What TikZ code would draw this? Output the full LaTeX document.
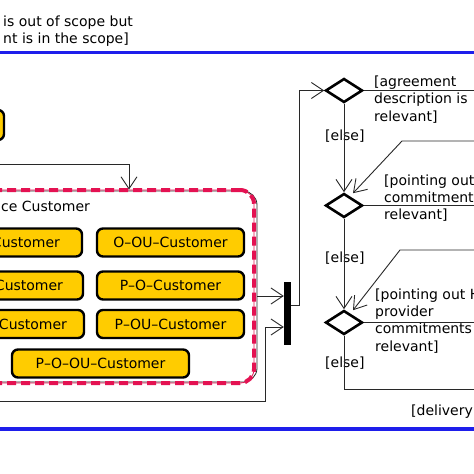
\documentclass[tikz,border=0pt]{standalone}
\usepackage{fontspec}
\setmainfont{DejaVu Sans}
\usetikzlibrary{shapes.geometric, arrows.meta, calc}
\definecolor{ybox}{RGB}{255,204,0}
\definecolor{grpred}{RGB}{228,18,82}
\definecolor{lane}{RGB}{30,30,235}
\definecolor{ln}{RGB}{40,40,40}
\begin{document}
\begin{tikzpicture}[x=1pt,y=-1pt,
  font=\fontsize{14}{17.5}\selectfont,
  arr/.style={draw=ln, line width=0.9pt, -{Straight Barb[length=12pt,width=16pt]}},
  wire/.style={draw=ln, line width=0.9pt},
  cbox/.style={draw=black, line width=2.4pt, fill=ybox, rounded corners=6pt, minimum height=28pt, inner sep=0pt},
  dec/.style={diamond, draw=black, line width=2.6pt, fill=white, minimum width=37pt, minimum height=24pt, aspect=1.5, inner sep=0pt},
  lbl/.style={anchor=north west, inner sep=0pt, align=left},
  swim/.style={draw=lane, line width=3.5pt},
  grp/.style={draw=grpred, line width=0.8pt, rounded corners=14pt, inner sep=0pt,
    postaction={draw=grpred, line width=4pt, dash pattern=on 9pt off 5pt}},
  frm/.style={draw=ln, line width=0.8pt, rounded corners=14pt, inner sep=0pt}]
\useasboundingbox (0,0) rectangle (474,474);
\fill[white] (0,0) rectangle (474,474);
\clip (0,0) rectangle (474,474);

% swimlane separators
\draw[swim] (-5,52.5) -- (480,52.5);
\draw[swim] (-5,429) -- (480,429);

% top note
\node[lbl] (tnote) at (3,15.5) {is out of scope but\\nt is in the scope]};

% top-left action (cut)
\node[cbox, minimum width=60pt, minimum height=30pt] (c0) at (-26,125) {};

% group frame
\node[frm, minimum width=407pt, minimum height=191pt] (frame) at (53.5,286.5) {};
\node[grp, minimum width=404pt, minimum height=193pt] (grp) at (52,286.5) {};
\node[lbl] (glabel) at (1,201.4) {ce Customer};

% customer boxes
\node[cbox, minimum width=112pt] (c1) at (26,242.5) {Customer};
\node[cbox, minimum width=108pt] (c2) at (29,285.5) {Customer};
\node[cbox, minimum width=102pt] (c3) at (33,324) {Customer};
\node[cbox, minimum width=147pt] (c4) at (170.5,242.5) {O–OU–Customer};
\node[cbox, minimum width=147pt] (c5) at (170.5,285.5) {P–O–Customer};
\node[cbox, minimum width=147pt] (c6) at (170.5,324) {P–OU–Customer};
\node[cbox, minimum width=177pt] (c7) at (100.5,363.5) {P–O–OU–Customer};

% join bar
\node[fill=black, minimum width=7pt, minimum height=63pt, inner sep=0pt] (bar) at (287.5,313.5) {};

% decisions
\node[dec] (d1) at (344,90.5) {};
\node[dec] (d2) at (344,205.5) {};
\node[dec] (d3) at (344,322.5) {};

% labels
\node[lbl] (l1) at (374,75.5) {[agreement\\description is\\relevant]};
\node[lbl, font=\fontsize{14}{17}\selectfont] (l2) at (384,174.5) {[pointing out\\commitment\\relevant]};
\node[lbl, font=\fontsize{14}{17.3}\selectfont] (l3) at (375,288.5) {[pointing out H\\provider\\commitments\\relevant]};
\node[lbl] (e1) at (325,129.4) {[else]};
\node[lbl] (e2) at (325,251.4) {[else]};
\node[lbl] (e3) at (325,356.4) {[else]};
\node[lbl] (l4) at (411,404.4) {[delivery};

% helper coordinates
\coordinate (inA) at (-5,164);
\coordinate (xA) at (129,0);
\coordinate (yB) at (0,296);
\coordinate (inC) at (-5,401);
\coordinate (kC) at (265,327);
\coordinate (yD) at (0,305);
\coordinate (kD) at (299,0);
\coordinate (oR) at (480,0);
\coordinate (g2) at (480,141);
\coordinate (b2) at (402,141);
\coordinate (g3) at (480,250);
\coordinate (b3) at (400,250);
\coordinate (oE) at (480,389);

% connectors
\draw[arr] (inA) -| (xA |- grp.north);
\draw[arr] (frame.east |- yB) -- (bar.west |- yB);
\draw[arr] (inC) -| (kC) -- (bar.west |- kC);
\draw[arr] (bar.east |- yD) -| (kD |- d1.west) -- (d1.west);
\draw[wire] (d1.east) -- (d1.east -| oR);
\draw[arr] (d1.south) -- (d2.north);
\draw[wire] (d2.east) -- (d2.east -| oR);
\draw[arr] (g2) -- (b2) -- ($(d2.north)+(9,1)$);
\draw[arr] (d2.south) -- (d3.north);
\draw[wire] (d3.east) -- (d3.east -| oR);
\draw[arr] (g3) -- (b3) -- ($(d3.north)+(9,1)$);
\draw[wire] (d3.south) |- (oE);
\end{tikzpicture}
\end{document}
